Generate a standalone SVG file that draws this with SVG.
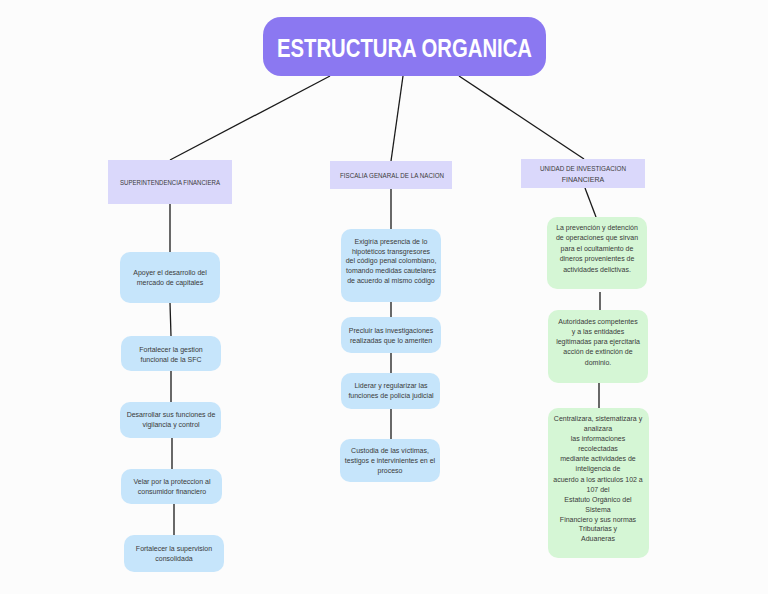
<svg xmlns="http://www.w3.org/2000/svg" width="768" height="594" viewBox="0 0 768 594">
<style>
.t{font-family:"Liberation Sans",Arial,sans-serif;font-size:7px;fill:#3a3a3a;text-anchor:middle}
.h{font-family:"Liberation Sans",Arial,sans-serif;font-size:7px;fill:#3a3a3a;text-anchor:middle}
.l1{fill:#dad8fb}
.b{fill:#c6e5fb}
.g{fill:#d5f6d5}
.c line{stroke:#1a1a1a;stroke-width:1.3}
</style>
<rect width="768" height="594" fill="#fcfcfc"/>
<g class="c" id="connectors">
<line x1="330" y1="76" x2="170" y2="160"/>
<line x1="403" y1="76" x2="391" y2="161"/>
<line x1="459" y1="76" x2="584" y2="159"/>
<line x1="170" y1="204" x2="170" y2="252"/>
<line x1="170" y1="303" x2="171" y2="336"/>
<line x1="171" y1="371" x2="171" y2="402"/>
<line x1="172" y1="438" x2="172" y2="469"/>
<line x1="174" y1="504" x2="174" y2="535"/>
<line x1="391" y1="189" x2="391" y2="229"/>
<line x1="391" y1="302" x2="391" y2="317"/>
<line x1="391" y1="353" x2="391" y2="373"/>
<line x1="391" y1="409" x2="391" y2="439"/>
<line x1="585" y1="188" x2="596" y2="217"/>
<line x1="600" y1="292" x2="600" y2="310"/>
<line x1="599" y1="383" x2="599" y2="408"/>
</g>
<g id="title">
<rect x="263" y="17" width="283" height="59" rx="18" fill="#8b78f1"/>
<text x="404.5" y="57" font-family="Liberation Sans,Arial,sans-serif" font-weight="bold" font-size="25" fill="#ffffff" text-anchor="middle" textLength="255" lengthAdjust="spacingAndGlyphs">ESTRUCTURA ORGANICA</text>
</g>
<g id="superintendencia">
<rect class="l1" x="108" y="160" width="124" height="44"/>
<text class="h" x="170" y="185" textLength="100" lengthAdjust="spacingAndGlyphs">SUPERINTENDENCIA FINANCIERA</text>
</g>
<g id="fiscalia">
<rect class="l1" x="330" y="161" width="122" height="28"/>
<text class="h" x="392" y="178" textLength="104" lengthAdjust="spacingAndGlyphs">FISCALIA GENARAL DE LA NACION</text>
</g>
<g id="unidad">
<rect class="l1" x="521" y="159" width="124" height="29"/>
<text class="h" x="583" y="171" textLength="86" lengthAdjust="spacingAndGlyphs">UNIDAD DE INVESTIGACION</text>
<text class="h" x="583" y="182">FINANCIERA</text>
</g>
<g id="s1">
<rect class="b" x="120" y="252" width="100" height="51" rx="10"/>
<text class="t" x="170" y="275">Apoyer el desarrollo del</text>
<text class="t" x="170" y="285">mercado de capitales</text>
</g>
<g id="s2">
<rect class="b" x="121" y="336" width="100" height="35" rx="10"/>
<text class="t" x="171" y="352">Fortalecer la gestion</text>
<text class="t" x="171" y="362">funcional de la SFC</text>
</g>
<g id="s3">
<rect class="b" x="120" y="402" width="101" height="36" rx="10"/>
<text class="t" x="171" y="417">Desarrollar sus funciones de</text>
<text class="t" x="171" y="427">vigilancia y control</text>
</g>
<g id="s4">
<rect class="b" x="121" y="469" width="101" height="35" rx="10"/>
<text class="t" x="172" y="484">Velar por la proteccion al</text>
<text class="t" x="172" y="494">consumidor financiero</text>
</g>
<g id="s5">
<rect class="b" x="124" y="535" width="100" height="37" rx="10"/>
<text class="t" x="174" y="551">Fortalecer la supervision</text>
<text class="t" x="174" y="561">consolidada</text>
</g>
<g id="f1">
<rect class="b" x="341" y="229" width="100" height="73" rx="10"/>
<text class="t" x="391" y="244">Exigiría presencia de lo</text>
<text class="t" x="391" y="254">hipotéticos transgresores</text>
<text class="t" x="391" y="263">del código penal colombiano,</text>
<text class="t" x="391" y="273">tomando medidas cautelares</text>
<text class="t" x="391" y="283">de acuerdo al mismo código</text>
</g>
<g id="f2">
<rect class="b" x="341" y="317" width="100" height="36" rx="10"/>
<text class="t" x="391" y="333">Precluir las investigaciones</text>
<text class="t" x="391" y="343">realizadas que lo ameriten</text>
</g>
<g id="f3">
<rect class="b" x="341" y="373" width="99" height="36" rx="10"/>
<text class="t" x="391" y="388">Liderar y regularizar las</text>
<text class="t" x="391" y="398">funciones de policía judicial</text>
</g>
<g id="f4">
<rect class="b" x="340" y="439" width="100" height="43" rx="10"/>
<text class="t" x="390" y="453">Custodia de las víctimas,</text>
<text class="t" x="390" y="463">testigos e intervinientes en el</text>
<text class="t" x="390" y="473">proceso</text>
</g>
<g id="u1">
<rect class="g" x="547" y="217" width="100" height="72" rx="10"/>
<text class="t" x="597" y="230">La prevención y detención</text>
<text class="t" x="597" y="240">de operaciones que sirvan</text>
<text class="t" x="597" y="251">para el ocultamiento de</text>
<text class="t" x="597" y="261">dineros provenientes de</text>
<text class="t" x="597" y="272">actividades delictivas.</text>
</g>
<g id="u2">
<rect class="g" x="548" y="310" width="100" height="73" rx="10"/>
<text class="t" x="598" y="324">Autoridades competentes</text>
<text class="t" x="598" y="334">y a las entidades</text>
<text class="t" x="598" y="344">legitimadas para ejercitarla</text>
<text class="t" x="598" y="354">acción de extinción de</text>
<text class="t" x="598" y="365">dominio.</text>
</g>
<g id="u3">
<rect class="g" x="548" y="408" width="101" height="150" rx="10"/>
<text class="t" x="598" y="421">Centralizara, sistematizara y</text>
<text class="t" x="598" y="431">analizara</text>
<text class="t" x="598" y="441">las informaciones</text>
<text class="t" x="598" y="451">recolectadas</text>
<text class="t" x="598" y="461">mediante actividades de</text>
<text class="t" x="598" y="471">inteligencia de</text>
<text class="t" x="598" y="482">acuerdo a los articulos 102 a</text>
<text class="t" x="598" y="492">107 del</text>
<text class="t" x="598" y="502">Estatuto Orgánico del</text>
<text class="t" x="598" y="512">Sistema</text>
<text class="t" x="598" y="522">Financiero y sus normas</text>
<text class="t" x="598" y="531">Tributarias y</text>
<text class="t" x="598" y="541">Aduaneras</text>
</g>
</svg>
